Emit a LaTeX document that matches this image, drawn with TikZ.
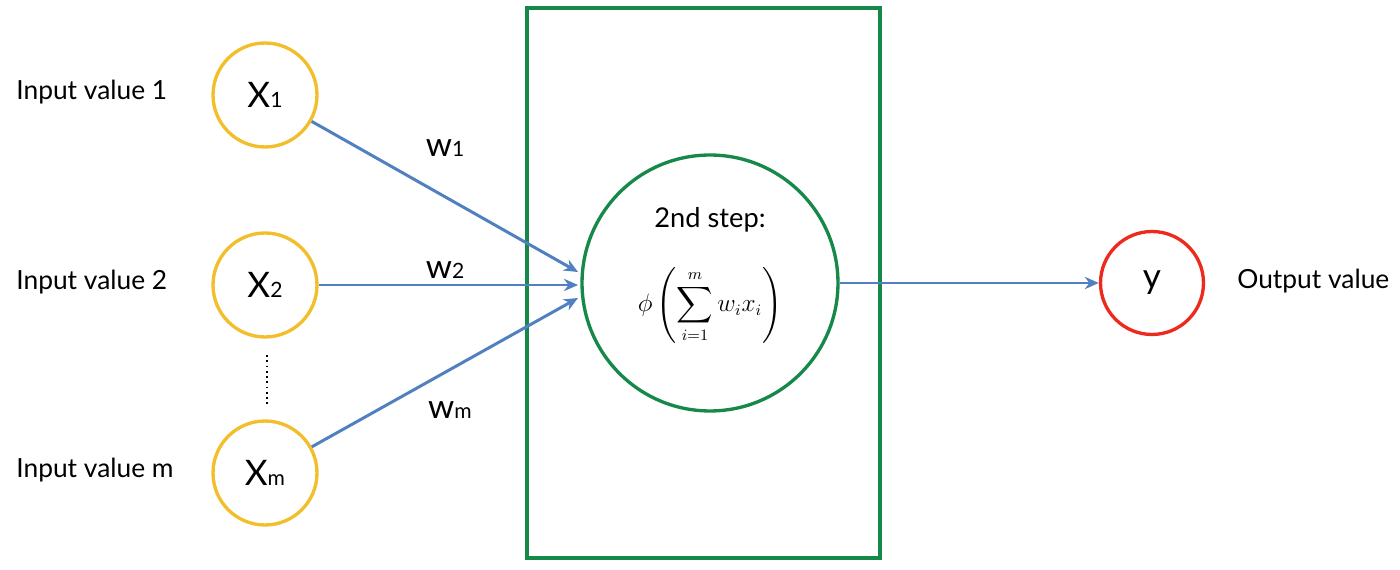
\documentclass[tikz,border=0pt]{standalone}
\usepackage{fontspec}
\setmainfont{Lato}
\usepackage{amsmath}
\usetikzlibrary{arrows.meta}
\definecolor{yel}{HTML}{F2BE2C}
\definecolor{grn}{HTML}{16894A}
\definecolor{blu}{HTML}{5080C0}
\definecolor{rd}{HTML}{EE2A1E}
\begin{document}
\begin{tikzpicture}[x=0.02cm,y=-0.02cm,
  inp/.style={circle,draw=yel,line width=1.9pt,minimum size=2.08cm,inner sep=0pt,font=\fontsize{20}{22}\selectfont},
  lab/.style={anchor=west,inner sep=0pt,font=\fontsize{15}{16}\selectfont},
  wl/.style={inner sep=0pt,font=\fontsize{19}{20}\selectfont},
  con/.style={draw=blu,line width=1.7pt,-{Stealth[length=8pt,width=7pt]}}]
\useasboundingbox (0,0) rectangle (1400,570);
\node[inp] (x1) at (265,95) {X{\fontsize{12}{12}\selectfont 1}};
\node[inp] (x2) at (265,285) {X{\fontsize{12}{12}\selectfont 2}};
\node[inp] (xm) at (265,473) {X{\fontsize{12}{12}\selectfont m}};
\node[lab] (l1) at (16,92) {Input value 1};
\node[lab] (l2) at (16,282) {Input value 2};
\node[lab] (lm) at (16,470) {Input value m};
\coordinate (d1) at (267,355); \coordinate (d2) at (267,405);
\draw[line width=1pt,dotted] (d1) -- (d2);
\node[draw=grn,line width=1.9pt,minimum width=7.06cm,minimum height=11cm,inner sep=0pt] (box) at (703.5,283) {};
\node[circle,draw=grn,line width=1.9pt,minimum size=5.12cm,inner sep=0pt] (s) at (710,283) {};
\node[inner sep=0pt,font=\fontsize{15.5}{16}\selectfont] (st) at (710,220) {2nd step:};
\node[inner sep=0pt,font=\fontsize{13.5}{15}\selectfont] (f) at (710,305) {$\displaystyle\phi\left(\sum_{i=1}^{m} w_i x_i\right)$};
\node[circle,draw=rd,line width=1.9pt,minimum size=2.06cm,inner sep=0pt,font=\fontsize{20}{22}\selectfont] (y) at (1152,283) {y};
\node[lab] (ol) at (1237,281) {Output value};
\coordinate (t1) at (578,272); \coordinate (t2) at (578,285); \coordinate (t3) at (578,298);
\draw[con] (x1) -- (t1);
\draw[con] (x2) -- (t2);
\draw[con] (xm) -- (t3);
\draw[con] (s) -- (y);
\node[wl] (w1) at (445,148) {w{\fontsize{12}{12}\selectfont 1}};
\node[wl] (w2) at (445,270) {w{\fontsize{12}{12}\selectfont 2}};
\node[wl] (wm) at (450,410) {w{\fontsize{12}{12}\selectfont m}};
\end{tikzpicture}
\end{document}
